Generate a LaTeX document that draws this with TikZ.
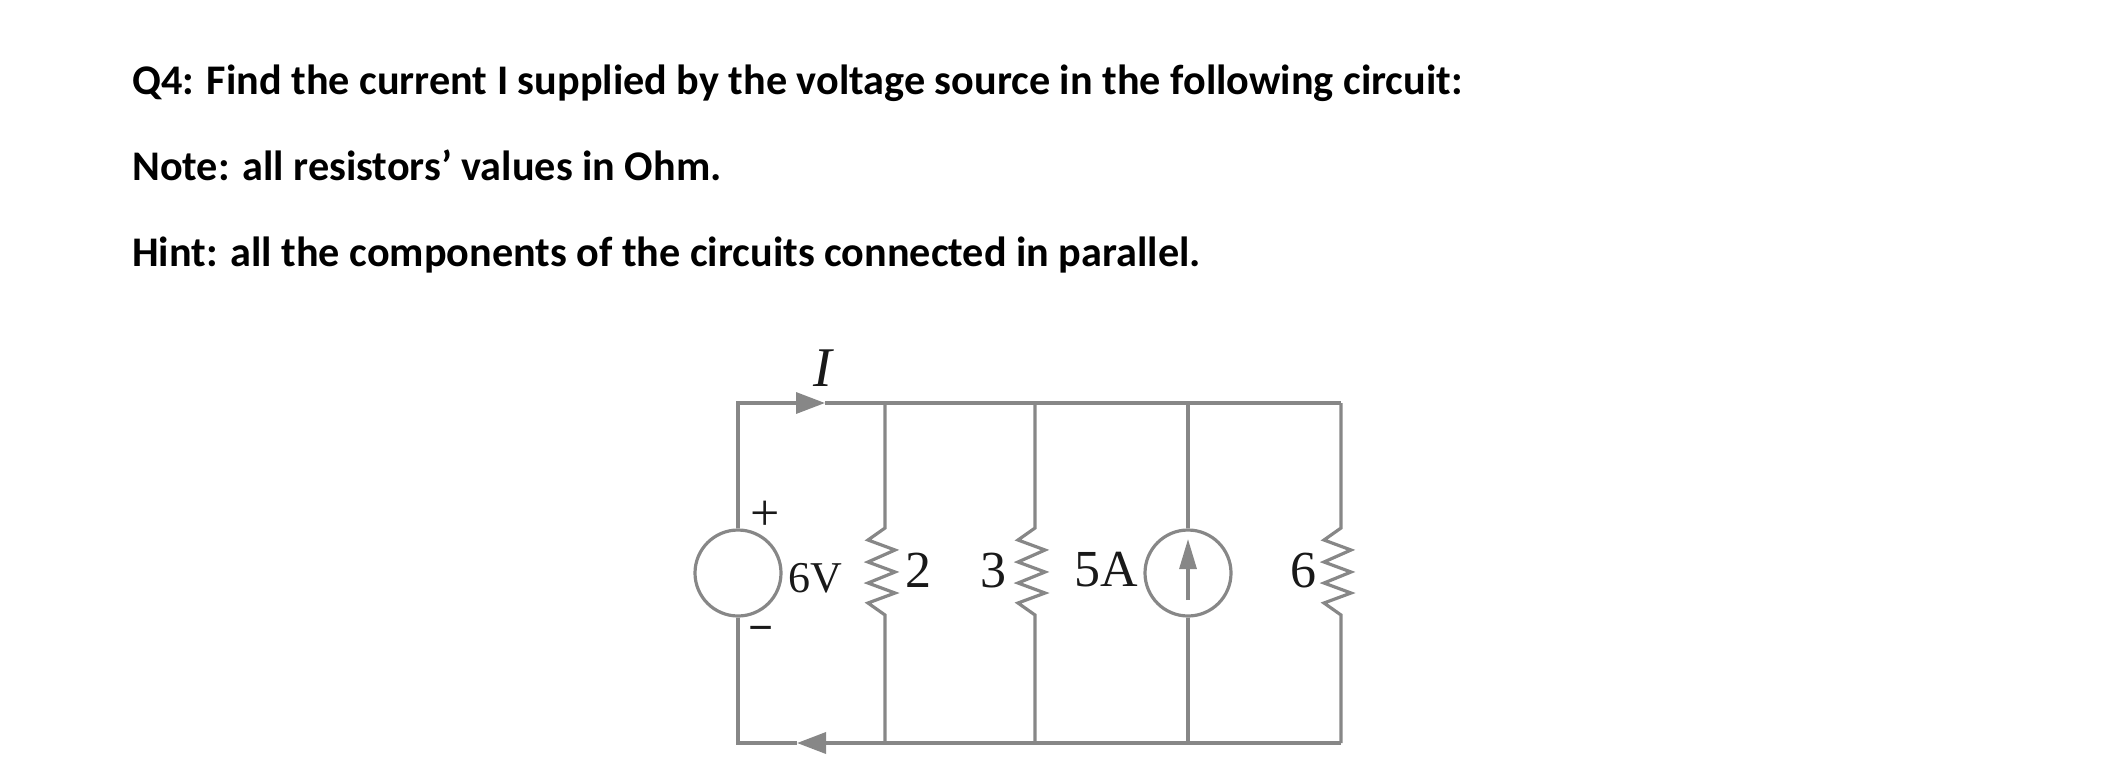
\documentclass[tikz,border=0pt]{standalone}
\usepackage{fontspec}
\setmainfont{Liberation Serif}
\newfontfamily\headfont{Carlito}[BoldFont=Carlito Bold]
\usepackage{tikz}
\usetikzlibrary{arrows,arrows.meta,positioning,shapes}
\definecolor{colorwire}{rgb}{0.53, 0.53, 0.53}
\tikzstyle{wire}=[draw=colorwire, line width=3.4pt, line join=miter]
\tikzstyle{thinwire}=[wire, line width=3.2pt]
\tikzstyle{source}=[circle, draw=colorwire, line width=3.2pt, minimum size=86pt, inner sep=0pt]
\tikzstyle{question}=[anchor=base west, inner sep=0pt, font=\headfont\bfseries\fontsize{42.2}{44}\selectfont]
\tikzstyle{value}=[inner sep=0pt, text=black!90, font=\fontsize{52}{54}\selectfont]
\tikzstyle{currenttip}=[-{Triangle[length=29pt, width=21pt, fill=colorwire]}]
\newcommand{\zigzag}{-- ++(-17,12) -- ++(27,10) -- ++(-27,12) -- ++(27,10) -- ++(-27,11) -- ++(27,10) -- ++(-27,10) -- ++(17,12)}
\begin{document}
\begin{tikzpicture}[x=1pt, y=-1pt]
	\useasboundingbox (0,0) rectangle (2109,769);
	
	\node[question] at (132, 94) (q1) {Q4: Find the current I supplied by the voltage source in the following circuit:};
	\node[question] at (132, 180) (q2) {Note: all resistors’ values in Ohm.};
	\node[question] at (132, 266) (q3) {Hint: all the components of the circuits connected in parallel.};
	
	% top and bottom rails
	\coordinate (t0) at (738, 403);
	\coordinate (t1) at (885, 403);
	\coordinate (t2) at (1035, 403);
	\coordinate (t3) at (1188, 403);
	\coordinate (t4) at (1341, 403);
	\coordinate (b0) at (738, 743);
	\coordinate (b1) at (885, 743);
	\coordinate (b2) at (1035, 743);
	\coordinate (b3) at (1188, 743);
	\coordinate (b4) at (1341, 743);
	\coordinate (topTip) at (825, 403);
	\coordinate (botTip) at (797, 743);
	
	% sources
	\node[source] at (738, 573) (vs) {};
	\node[source] at (1188, 573) (cs) {};
	\coordinate (csTail) at (1188, 600);
	\coordinate (csTip) at (1188, 539);
	
	% resistor ends
	\coordinate (r1top) at (885, 528);
	\coordinate (r2top) at (1035, 528);
	\coordinate (r3top) at (1341, 528);
	
	% wires
	\draw[wire, currenttip] (vs.north) -- (t0) -- (topTip);
	\draw[wire] (topTip) -- (t4);
	\draw[wire, line width=3.6pt, currenttip] (b4) -- (botTip);
	\draw[wire, line width=3.6pt] (botTip) -- (b0) -- (vs.south);
	
	\draw[thinwire] (t1) -- (r1top) \zigzag -- (b1);
	\draw[thinwire] (t2) -- (r2top) \zigzag -- (b2);
	\draw[thinwire] (t4) -- (r3top) \zigzag -- (b4);
	\draw[thinwire] (t3) -- (cs.north);
	\draw[thinwire] (cs.south) -- (b3);
	\draw[thinwire, -{Triangle[length=30pt, width=17pt, fill=colorwire]}] (csTail) -- (csTip);
	
	% labels
	\node[value, font=\itshape\fontsize{56}{58}\selectfont] at (823, 368) (lI) {I};
	\node[value] at (765, 516) (lplus) {+};
	\node[value, font=\bfseries\fontsize{44}{46}\selectfont] at (761, 634) (lminus) {−};
	\node[value, font=\fontsize{44}{46}\selectfont] at (815, 578) (l6V) {6V};
	\node[value] at (918, 570) (l2) {2};
	\node[value] at (993, 571) (l3) {3};
	\node[value] at (1106, 570) (l5A) {5A};
	\node[value] at (1303, 571) (l6) {6};
	
\end{tikzpicture}
\end{document}
